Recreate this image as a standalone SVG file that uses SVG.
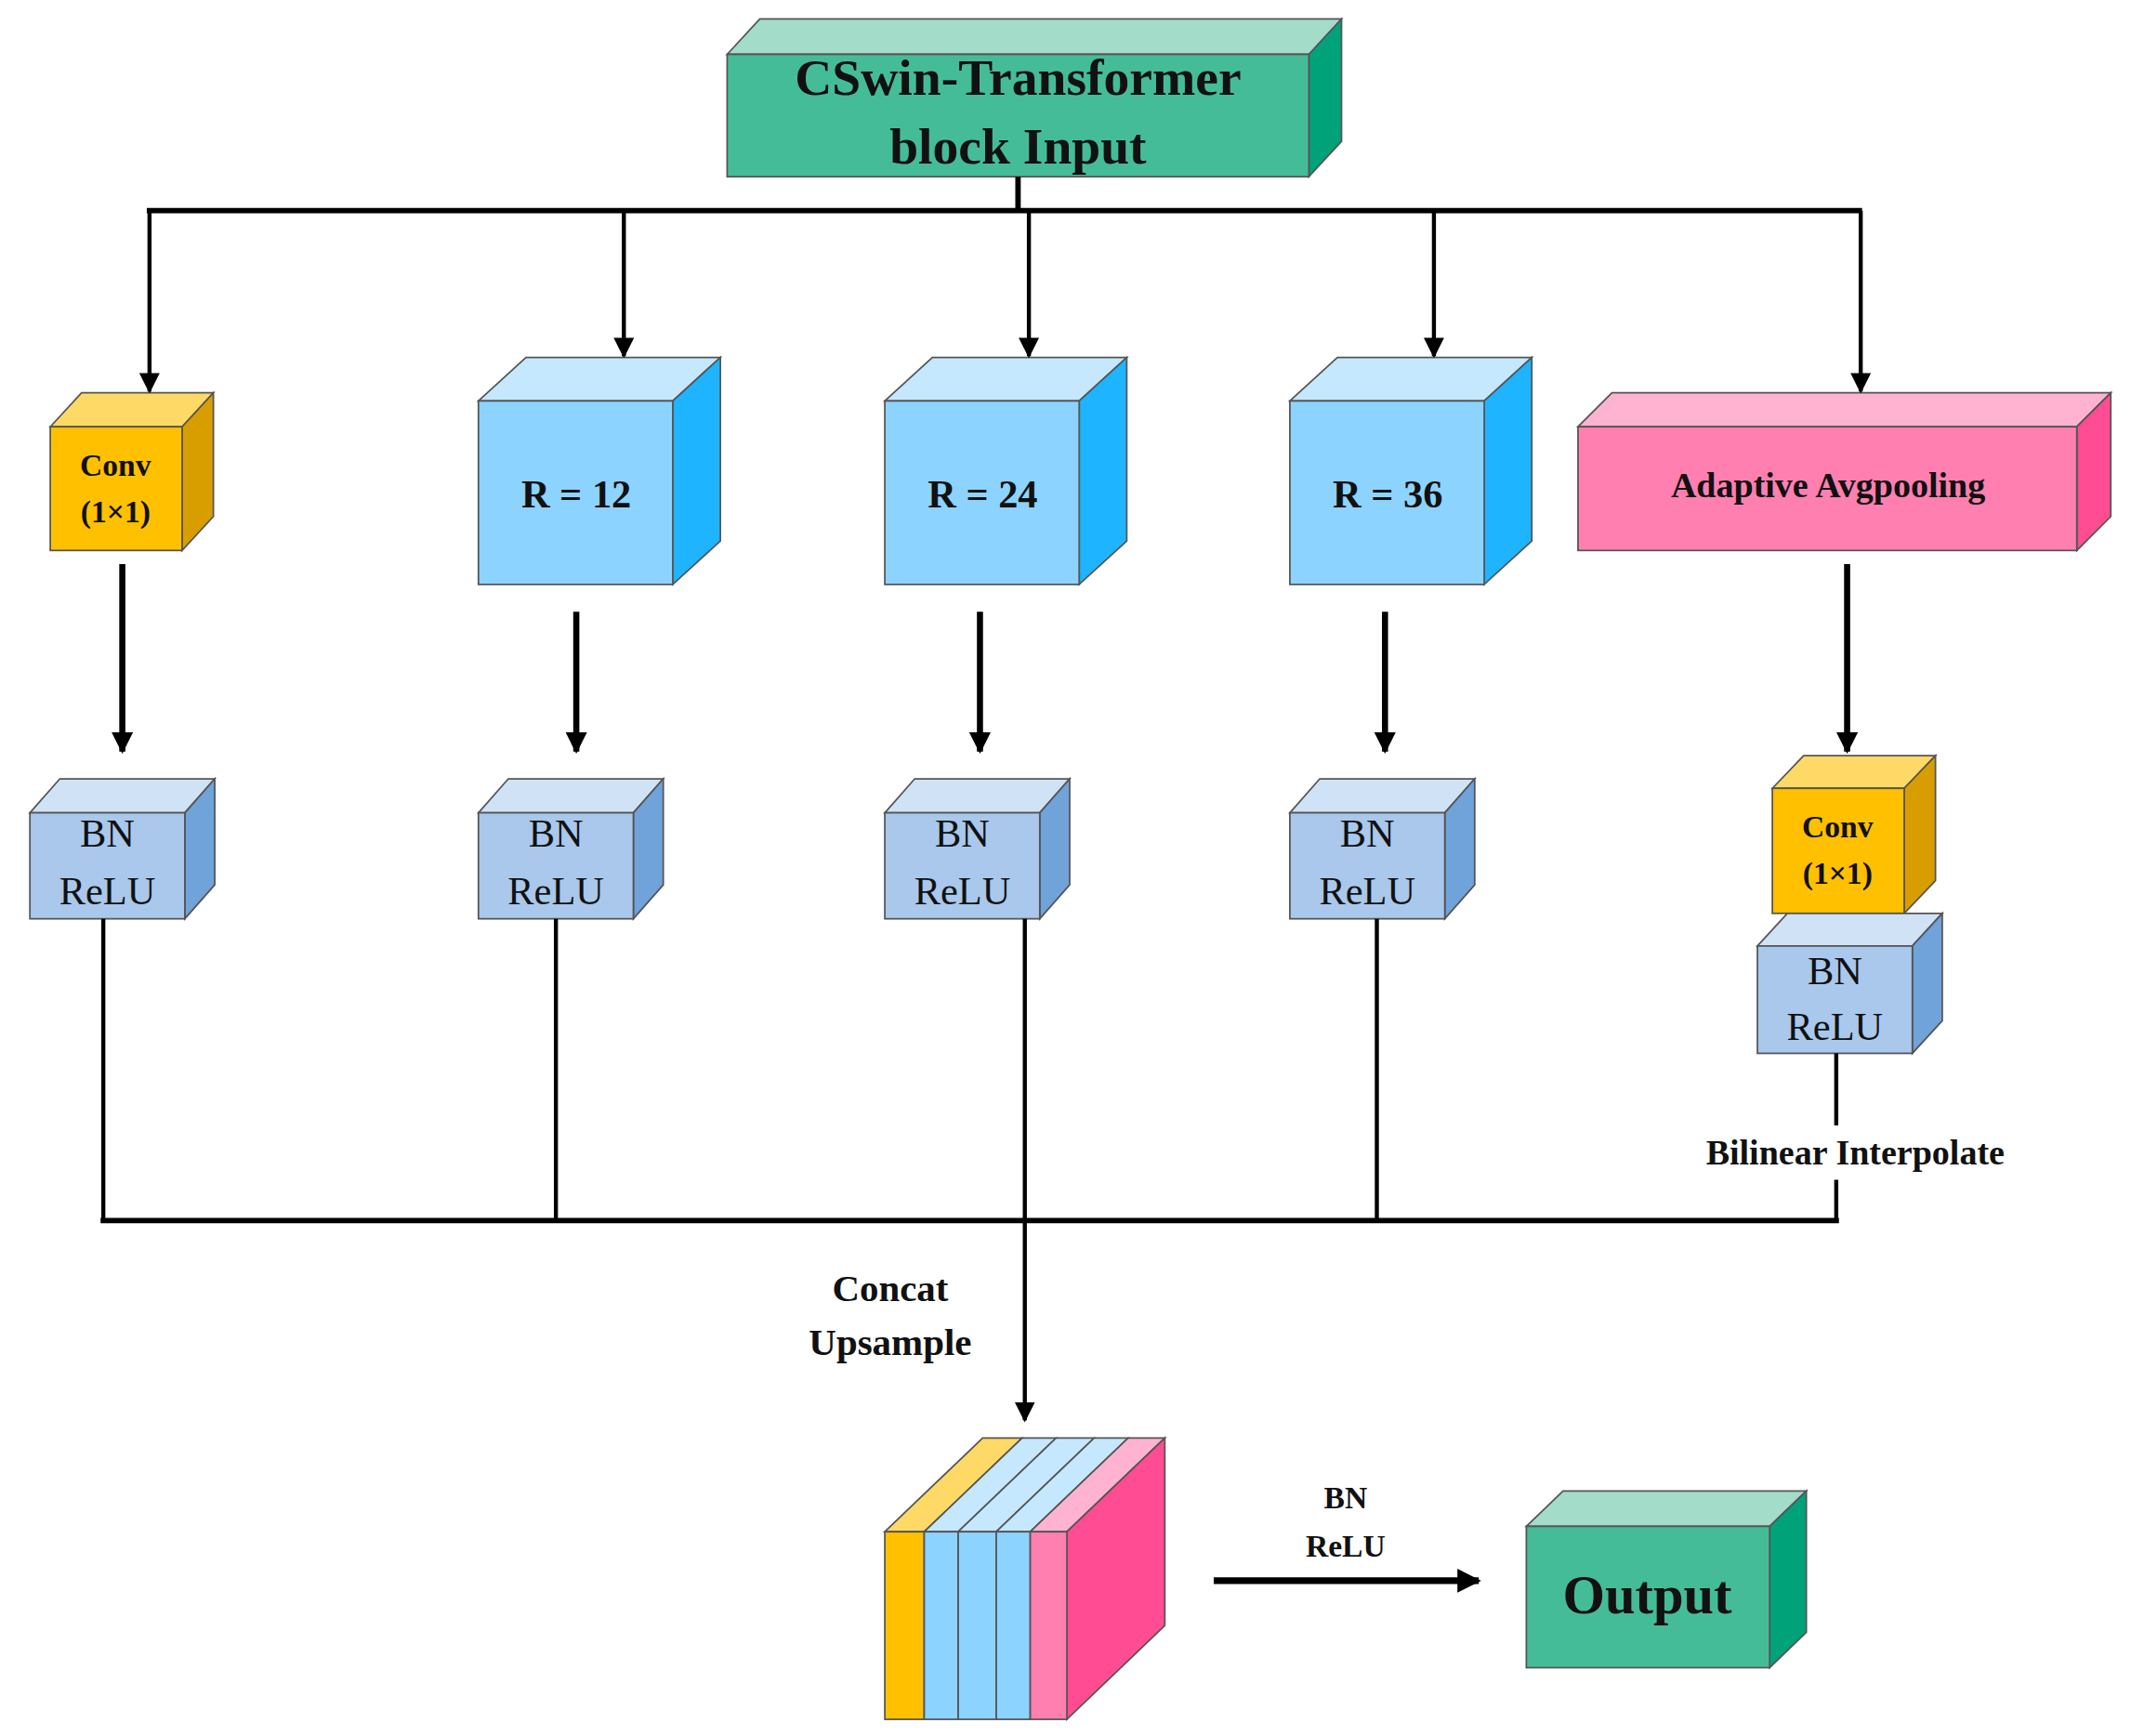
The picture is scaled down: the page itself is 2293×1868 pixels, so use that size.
<svg xmlns="http://www.w3.org/2000/svg" width="2293" height="1868" viewBox="0 0 2293 1868">
<style>
.e{stroke:#555;stroke-width:1.2}
.t{font-family:"Liberation Serif","Times New Roman",serif;font-weight:bold;text-anchor:middle;fill:#111}
.n{font-family:"Liberation Serif","Times New Roman",serif;text-anchor:middle;fill:#111}
.c{stroke:#000;fill:none}
</style>
<defs>
<marker id="a" viewBox="0 0 10 10" refX="9" refY="5" markerWidth="5" markerHeight="5" orient="auto" markerUnits="strokeWidth"><path d="M0,0 L10,5 L0,10 z" fill="#000"/></marker>
<marker id="b" viewBox="0 0 10 10" refX="9" refY="5" markerWidth="3.5" markerHeight="3.5" orient="auto" markerUnits="strokeWidth"><path d="M0,0 L10,5 L0,10 z" fill="#000"/></marker>
</defs>
<rect width="2293" height="1868" fill="#fff"/>
<g transform="scale(1.4625)">
<g id="input">
<polygon class="e" points="535,40 559,14 987,14 963,40" fill="#A3DCC8"/>
<polygon class="e" points="963,40 987,14 987,104 963,130" fill="#00A27A"/>
<rect class="e" x="535" y="40" width="428" height="90" fill="#45BC98"/>
<text class="t" x="749" y="70" font-size="38">CSwin-Transformer</text>
<text class="t" x="749" y="120" font-size="38">block Input</text>
</g>
<g id="conv1">
<polygon class="e" points="37,314 60,289 157,289 134,314" fill="#FFD966"/>
<polygon class="e" points="134,314 157,289 157,380 134,405" fill="#D89E00"/>
<rect class="e" x="37" y="314" width="97" height="91" fill="#FFC000"/>
<text class="t" x="85" y="350" font-size="23">Conv</text>
<text class="t" x="85" y="384" font-size="23">(1×1)</text>
</g>
<g id="r12">
<polygon class="e" points="352,295 387,263 530,263 495,295" fill="#C5E8FF"/>
<polygon class="e" points="495,295 530,263 530,398 495,430" fill="#1EB4FF"/>
<rect class="e" x="352" y="295" width="143" height="135" fill="#8DD3FF"/>
<text class="t" x="424" y="373" font-size="29">R = 12</text>
</g>
<g id="r24">
<polygon class="e" points="651,295 686,263 829,263 794,295" fill="#C5E8FF"/>
<polygon class="e" points="794,295 829,263 829,398 794,430" fill="#1EB4FF"/>
<rect class="e" x="651" y="295" width="143" height="135" fill="#8DD3FF"/>
<text class="t" x="723" y="373" font-size="29">R = 24</text>
</g>
<g id="r36">
<polygon class="e" points="949,295 984,263 1127,263 1092,295" fill="#C5E8FF"/>
<polygon class="e" points="1092,295 1127,263 1127,398 1092,430" fill="#1EB4FF"/>
<rect class="e" x="949" y="295" width="143" height="135" fill="#8DD3FF"/>
<text class="t" x="1021" y="373" font-size="29">R = 36</text>
</g>
<g id="pool">
<polygon class="e" points="1161,314 1186,289 1553,289 1528,314" fill="#FFB3D1"/>
<polygon class="e" points="1528,314 1553,289 1553,380 1528,405" fill="#FF4C93"/>
<rect class="e" x="1161" y="314" width="367" height="91" fill="#FF80B0"/>
<text class="t" x="1345" y="366" font-size="26">Adaptive Avgpooling</text>
</g>
<g id="bn1">
<polygon class="e" points="22,598 44,573 158,573 136,598" fill="#D0E2F5"/>
<polygon class="e" points="136,598 158,573 158,651 136,676" fill="#6FA3DA"/>
<rect class="e" x="22" y="598" width="114" height="78" fill="#A9C8EC"/>
<text class="n" x="79" y="623" font-size="29">BN</text>
<text class="n" x="79" y="665" font-size="29">ReLU</text>
</g>
<g id="bn2">
<polygon class="e" points="352,598 374,573 488,573 466,598" fill="#D0E2F5"/>
<polygon class="e" points="466,598 488,573 488,651 466,676" fill="#6FA3DA"/>
<rect class="e" x="352" y="598" width="114" height="78" fill="#A9C8EC"/>
<text class="n" x="409" y="623" font-size="29">BN</text>
<text class="n" x="409" y="665" font-size="29">ReLU</text>
</g>
<g id="bn3">
<polygon class="e" points="651,598 673,573 787,573 765,598" fill="#D0E2F5"/>
<polygon class="e" points="765,598 787,573 787,651 765,676" fill="#6FA3DA"/>
<rect class="e" x="651" y="598" width="114" height="78" fill="#A9C8EC"/>
<text class="n" x="708" y="623" font-size="29">BN</text>
<text class="n" x="708" y="665" font-size="29">ReLU</text>
</g>
<g id="bn4">
<polygon class="e" points="949,598 971,573 1085,573 1063,598" fill="#D0E2F5"/>
<polygon class="e" points="1063,598 1085,573 1085,651 1063,676" fill="#6FA3DA"/>
<rect class="e" x="949" y="598" width="114" height="78" fill="#A9C8EC"/>
<text class="n" x="1006" y="623" font-size="29">BN</text>
<text class="n" x="1006" y="665" font-size="29">ReLU</text>
</g>
<g id="conv2">
<polygon class="e" points="1304,580 1327,556 1424,556 1401,580" fill="#FFD966"/>
<polygon class="e" points="1401,580 1424,556 1424,648 1401,672" fill="#D89E00"/>
<rect class="e" x="1304" y="580" width="97" height="92" fill="#FFC000"/>
<text class="t" x="1352" y="616" font-size="23">Conv</text>
<text class="t" x="1352" y="650" font-size="23">(1×1)</text>
</g>
<g id="bn5">
<polygon class="e" points="1293,696 1315,672 1429,672 1407,696" fill="#D0E2F5"/>
<polygon class="e" points="1407,696 1429,672 1429,751 1407,775" fill="#6FA3DA"/>
<rect class="e" x="1293" y="696" width="114" height="79" fill="#A9C8EC"/>
<text class="n" x="1350" y="724" font-size="29">BN</text>
<text class="n" x="1350" y="765" font-size="29">ReLU</text>
</g>
<g id="stack">
<polygon class="e" points="651,1127 723,1058 752,1058 680,1127" fill="#FFD966"/>
<polygon class="e" points="680,1127 752,1058 777,1058 705,1127" fill="#C5E8FF"/>
<polygon class="e" points="705,1127 777,1058 805,1058 733,1127" fill="#C5E8FF"/>
<polygon class="e" points="733,1127 805,1058 830,1058 758,1127" fill="#C5E8FF"/>
<polygon class="e" points="758,1127 830,1058 857,1058 785,1127" fill="#FFB3D1"/>
<polygon class="e" points="785,1127 857,1058 857,1196 785,1265" fill="#FF4C93"/>
<rect class="e" x="651" y="1127" width="29" height="138" fill="#FFC000"/>
<rect class="e" x="680" y="1127" width="25" height="138" fill="#8DD3FF"/>
<rect class="e" x="705" y="1127" width="28" height="138" fill="#8DD3FF"/>
<rect class="e" x="733" y="1127" width="25" height="138" fill="#8DD3FF"/>
<rect class="e" x="758" y="1127" width="27" height="138" fill="#FF80B0"/>
</g>
<g id="output">
<polygon class="e" points="1123,1123 1150,1097 1329,1097 1302,1123" fill="#A3DCC8"/>
<polygon class="e" points="1302,1123 1329,1097 1329,1201 1302,1227" fill="#00A27A"/>
<rect class="e" x="1123" y="1123" width="179" height="104" fill="#45BC98"/>
<text class="t" x="1212" y="1187" font-size="40">Output</text>
</g>
<g id="connectors">
<path class="c" stroke-width="4" d="M749,130 V155 M108,155 H1370"/>
<path class="c" stroke-width="3" marker-end="url(#a)" d="M110,155 V288"/>
<path class="c" stroke-width="3" marker-end="url(#a)" d="M459,155 V262"/>
<path class="c" stroke-width="3" marker-end="url(#a)" d="M757,155 V262"/>
<path class="c" stroke-width="3" marker-end="url(#a)" d="M1055,155 V262"/>
<path class="c" stroke-width="3" marker-end="url(#a)" d="M1369,155 V288"/>
<path class="c" stroke-width="4.5" marker-end="url(#b)" d="M90,415 V553"/>
<path class="c" stroke-width="4.5" marker-end="url(#b)" d="M424,450 V553"/>
<path class="c" stroke-width="4.5" marker-end="url(#b)" d="M721,450 V553"/>
<path class="c" stroke-width="4.5" marker-end="url(#b)" d="M1019,450 V553"/>
<path class="c" stroke-width="4.5" marker-end="url(#b)" d="M1359,415 V553"/>
<path class="c" stroke-width="3" d="M76,676 V898 M409,676 V898 M1013,676 V898 M1351,775 V828 M1351,868 V898"/>
<path class="c" stroke-width="4" d="M74,898 H1353"/>
<path class="c" stroke-width="3" marker-end="url(#a)" d="M754,676 V1045"/>
<path class="c" stroke-width="5" marker-end="url(#b)" d="M893,1163 H1088"/>
</g>
<text class="t" x="1365" y="857" font-size="26">Bilinear Interpolate</text>
<text class="t" x="655" y="957" font-size="28">Concat</text>
<text class="t" x="655" y="997" font-size="28">Upsample</text>
<text class="t" x="990" y="1110" font-size="23">BN</text>
<text class="t" x="990" y="1145" font-size="23">ReLU</text>
</g>
</svg>
